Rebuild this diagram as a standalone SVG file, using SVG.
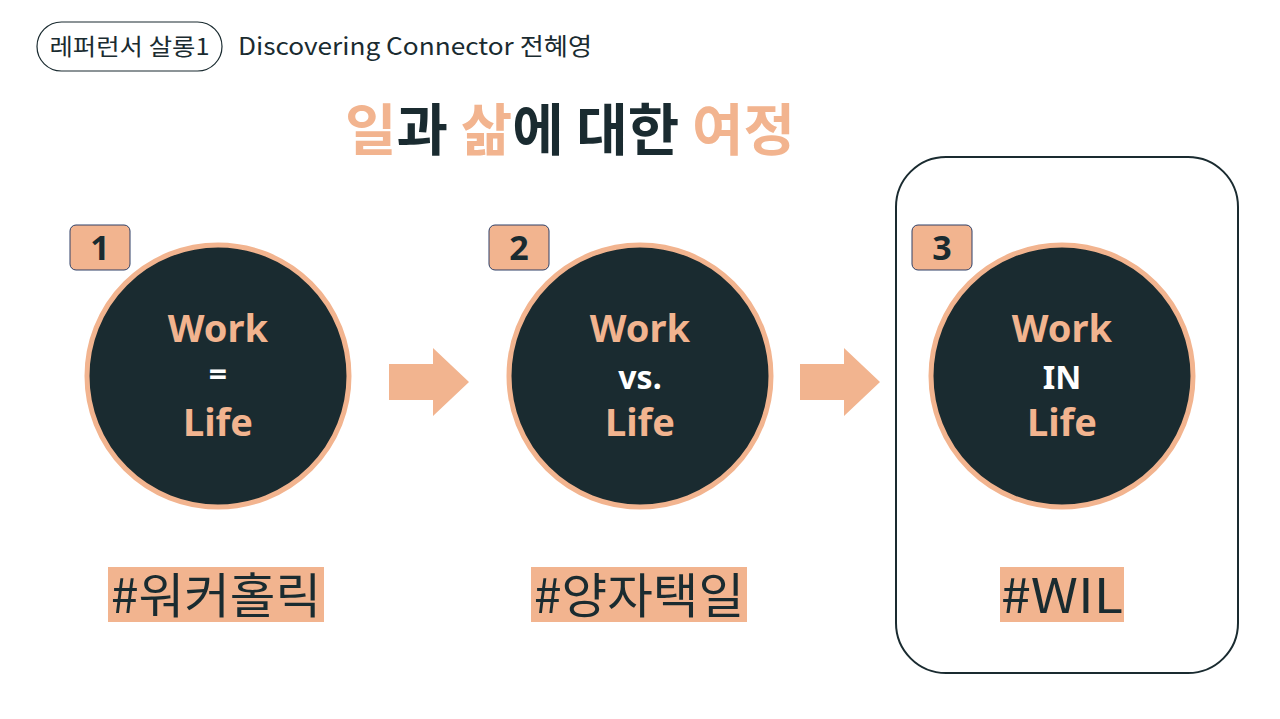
<svg xmlns="http://www.w3.org/2000/svg" width="1280" height="719" viewBox="0 0 1280 719">
<style>
.k{font-family:"Noto Sans CJK KR","Noto Sans",sans-serif}
.c{fill:#1A2B30;stroke:#F2B48F;stroke-width:5}
.b{fill:#F2B48F;stroke:#2E3F66;stroke-width:1}
.n{font-family:"Noto Sans","Noto Sans CJK KR",sans-serif;font-weight:700;font-size:34px;fill:#1A2B30;text-anchor:middle}
.w{font-family:"Noto Sans","Noto Sans CJK KR",sans-serif;font-weight:700;font-size:38px;fill:#F2B48F;text-anchor:middle}
.m{font-family:"Noto Sans","Noto Sans CJK KR",sans-serif;font-weight:700;font-size:32px;fill:#fff;text-anchor:middle}
.hl{fill:#F2B48F}
.t{font-family:"Noto Sans CJK KR","Noto Sans",sans-serif;font-size:48px;fill:#1A2B30;text-anchor:middle}
.ar{fill:#F2B48F}
</style>
<rect width="1280" height="719" fill="#fff"/>
<g id="header">
<rect x="37" y="22" width="185" height="49" rx="24.5" fill="#fff" stroke="#1A2B30" stroke-width="1.2"/>
<text x="129.5" y="55" class="k" font-size="23" fill="#1A2B30" text-anchor="middle" textLength="160" lengthAdjust="spacingAndGlyphs">레퍼런서 살롱1</text>
<text x="238" y="55" class="k" font-size="24" fill="#1A2B30" textLength="354" lengthAdjust="spacingAndGlyphs">Discovering Connector 전혜영</text>
</g>
<g id="title">
<text x="570" y="150" class="k" font-size="56" font-weight="700" fill="#1A2B30" text-anchor="middle" textLength="450" lengthAdjust="spacingAndGlyphs"><tspan fill="#F2B48F">일</tspan>과 <tspan fill="#F2B48F">삶</tspan>에 대한 <tspan fill="#F2B48F">여정</tspan></text>
</g>
<g id="frame3"><rect x="896" y="157" width="342" height="516" rx="50" fill="none" stroke="#1A2B30" stroke-width="2"/></g>
<g id="node1">
<circle cx="218" cy="376" r="131" class="c"/>
<text x="218" y="342" class="w">Work</text>
<text x="218" y="386" class="m">=</text>
<text x="218" y="436" class="w">Life</text>
<rect x="70" y="225" width="60" height="45" rx="6" class="b"/>
<text x="100" y="260" class="n">1</text>
<rect x="108" y="567" width="216" height="55" class="hl"/>
<text x="216" y="613" class="t" textLength="210" lengthAdjust="spacingAndGlyphs">#워커홀릭</text>
</g>
<g id="node2">
<circle cx="640" cy="376" r="131" class="c"/>
<text x="640" y="342" class="w">Work</text>
<text x="640" y="389" class="m">vs.</text>
<text x="640" y="436" class="w">Life</text>
<rect x="489" y="225" width="60" height="45" rx="6" class="b"/>
<text x="519" y="260" class="n">2</text>
<rect x="531" y="567" width="216" height="55" class="hl"/>
<text x="639" y="613" class="t" textLength="210" lengthAdjust="spacingAndGlyphs">#양자택일</text>
</g>
<g id="node3">
<circle cx="1062" cy="376" r="131" class="c"/>
<text x="1062" y="342" class="w">Work</text>
<text x="1062" y="389" class="m">IN</text>
<text x="1062" y="436" class="w">Life</text>
<rect x="912" y="225" width="60" height="45" rx="6" class="b"/>
<text x="942" y="260" class="n">3</text>
<rect x="1000" y="567" width="124" height="55" class="hl"/>
<text x="1062" y="613" class="t" textLength="122" lengthAdjust="spacingAndGlyphs">#WIL</text>
</g>
<g id="connectors">
<polygon class="ar" points="389,364 433,364 433,348 469,382 433,416 433,400 389,400"/>
<polygon class="ar" points="800,364 844,364 844,348 880,382 844,416 844,400 800,400"/>
</g>
</svg>
